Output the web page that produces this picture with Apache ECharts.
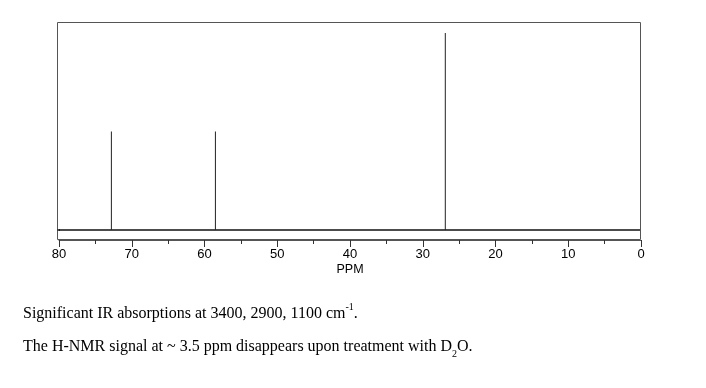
<!DOCTYPE html>
<html>
<head>
<meta charset="utf-8">
<style>
html,body{margin:0;padding:0;background:#fff;}
#chart{width:706px;height:388px;}
</style>
<script src="https://cdn.jsdelivr.net/npm/echarts@6/dist/echarts.min.js"></script>
</head>
<body>
<div id="chart"></div>
<script>
// Peak positions (ppm) and relative heights
var peakPPM = [72.8, 58.5, 26.9];
var peakHeight = [50, 50, 100];
var axisTicks = [0, 10, 20, 30, 40, 50, 60, 70, 80];
var axisName = 'PPM';
var noteLine1 = ['Significant IR absorptions at 3400, 2900, 1100 cm', '-1', '.'];
var noteLine2 = ['The H-NMR signal at ~ 3.5 ppm disappears upon treatment with D', '2', 'O.'];

var peakData = [];
peakPPM.forEach(function (p, i) {
  if (i > 0) peakData.push('-');
  peakData.push([p, 0]);
  peakData.push([p, peakHeight[i]]);
});

var chart = echarts.init(document.getElementById('chart'), null, {renderer: 'canvas'});
chart.setOption({
  backgroundColor: '#ffffff',
  animation: false,
  grid: {
    left: 59, right: 65, top: 22, bottom: 148,
    show: false
  },
  xAxis: {
    type: 'value',
    inverse: true,
    min: axisTicks[0],
    max: axisTicks[axisTicks.length - 1],
    interval: 10,
    name: axisName,
    nameLocation: 'middle',
    nameGap: 23,
    nameMoveOverlap: false,
    nameTextStyle: {fontFamily: 'Liberation Sans', fontSize: 12.5, color: '#000'},
    axisLine: {show: true, onZero: false, lineStyle: {color: '#555', width: 1}},
    axisTick: {show: true, inside: false, length: 7, lineStyle: {color: '#333'}},
    minorTick: {show: true, splitNumber: 2, length: 4, lineStyle: {color: '#333'}},
    splitLine: {show: false},
    axisLabel: {fontFamily: 'Liberation Sans', fontSize: 13, color: '#000', margin: 8}
  },
  yAxis: {
    type: 'value',
    min: -5.08,
    max: 105.6,
    show: false
  },
  series: [
    {
      type: 'line',
      data: [[axisTicks[axisTicks.length - 1], 0], [axisTicks[0], 0]],
      symbol: 'none',
      lineStyle: {color: '#111', width: 1.5},
      silent: true
    },
    {
      type: 'line',
      data: peakData,
      symbol: 'none',
      connectNulls: false,
      lineStyle: {color: '#222', width: 1},
      silent: true
    }
  ],
  graphic: [
    {
      type: 'rect',
      shape: {x: 57.5, y: 22.5, width: 583, height: 217},
      style: {fill: 'none', stroke: '#555', lineWidth: 1},
      silent: true,
      z: 10
    },
    {
      type: 'line',
      shape: {x1: 57.5, y1: 230, x2: 60, y2: 230},
      style: {stroke: '#111', lineWidth: 1.5},
      silent: true,
      z: 10
    },
    {
      type: 'text',
      left: 23,
      top: 302,
      style: {
        text: '{m|' + noteLine1[0] + '}{sup|' + noteLine1[1] + '}{m|' + noteLine1[2] + '}',
        rich: {
          m: {fontFamily: 'Liberation Serif', fontSize: 16, color: '#000', lineHeight: 20, verticalAlign: 'bottom'},
          sup: {fontFamily: 'Liberation Serif', fontSize: 10, color: '#000', lineHeight: 12, verticalAlign: 'top'}
        }
      }
    },
    {
      type: 'text',
      left: 23,
      top: 339,
      style: {
        text: '{m|' + noteLine2[0] + '}{sub|' + noteLine2[1] + '}{m|' + noteLine2[2] + '}',
        rich: {
          m: {fontFamily: 'Liberation Serif', fontSize: 16, color: '#000', lineHeight: 20, verticalAlign: 'top'},
          sub: {fontFamily: 'Liberation Serif', fontSize: 10, color: '#000', lineHeight: 12, verticalAlign: 'bottom'}
        }
      }
    }
  ]
});
</script>
</body>
</html>
